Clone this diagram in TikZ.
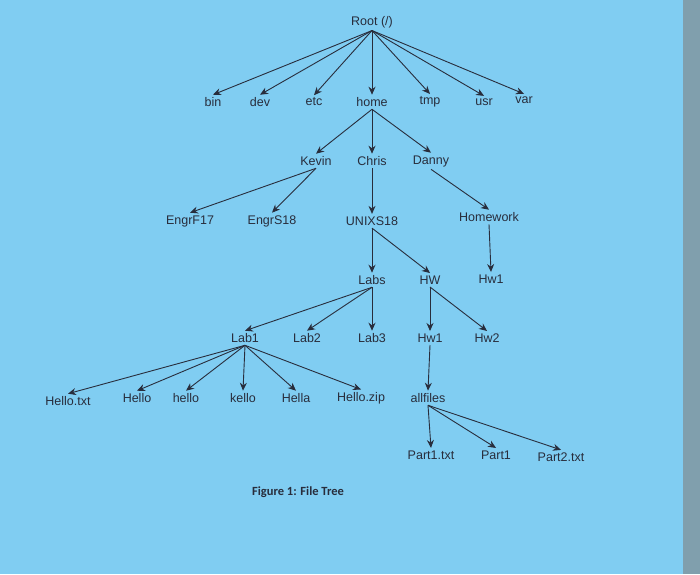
\documentclass[tikz,border=0pt]{standalone}
\usepackage{fontspec}
\setmainfont{Liberation Sans}
\newfontfamily\capfont{Carlito}
\usetikzlibrary{arrows.meta}
\definecolor{paper}{RGB}{128,205,242}
\definecolor{ink}{RGB}{40,45,60}
\begin{document}
\begin{tikzpicture}[x=1pt,y=-1pt,
  lbl/.style={text=ink,font=\fontsize{12.5}{12.5}\selectfont,inner sep=2.5pt},
  arr/.style={draw=ink,line width=0.9pt,-{Stealth[length=8pt,width=7pt]}}]
\fill[paper] (0,0) rectangle (700,574);
\fill[gray!60!paper] (683,0) rectangle (700,574);
\useasboundingbox (0,0) rectangle (700,574);
\node[lbl] (root) at (372,22) {Root (/)};
\node[lbl] (bin) at (213,102) {bin};
\node[lbl] (dev) at (260,102) {dev};
\node[lbl] (etc) at (314,102) {etc};
\node[lbl] (home) at (372,102) {home};
\node[lbl] (tmp) at (430,102) {tmp};
\node[lbl] (usr) at (484,102) {usr};
\node[lbl] (var) at (524,100) {var};
\node[lbl] (kevin) at (316,161) {Kevin};
\node[lbl] (chris) at (372,161) {Chris};
\node[lbl] (danny) at (431,161) {Danny};
\node[lbl] (f17) at (190,221) {EngrF17};
\node[lbl] (s18) at (272,221) {EngrS18};
\node[lbl] (unix) at (372,221) {UNIXS18};
\node[lbl] (homework) at (489,217) {Homework};
\node[lbl] (labs) at (372,280) {Labs};
\node[lbl] (hw) at (430,280) {HW};
\node[lbl] (hwa) at (491,279) {Hw1};
\node[lbl] (lab1) at (245,338) {Lab1};
\node[lbl] (lab2) at (307,338) {Lab2};
\node[lbl] (lab3) at (372,338) {Lab3};
\node[lbl] (hwb) at (430,338) {Hw1};
\node[lbl] (hw2) at (487,338) {Hw2};
\node[lbl] (f1) at (68,401) {Hello.txt};
\node[lbl] (f2) at (137,398) {Hello};
\node[lbl] (f3) at (186,398) {hello};
\node[lbl] (f4) at (243,398) {kello};
\node[lbl] (f5) at (296,398) {Hella};
\node[lbl] (f6) at (361,398) {Hello.zip};
\node[lbl] (all) at (428,398) {allfiles};
\node[lbl] (p1) at (431,455) {Part1.txt};
\node[lbl] (p2) at (496,455) {Part1};
\node[lbl] (p3) at (561,457) {Part2.txt};
\node[text=ink,font=\capfont\bfseries\fontsize{12.5}{12.5}\selectfont] (cap) at (298,492) {Figure 1: File Tree};
\foreach \t in {bin,dev,etc,home,tmp,usr,var} \draw[arr] (root.south) -- (\t.north);
\foreach \t in {kevin,chris,danny} \draw[arr] (home.south) -- (\t.north);
\foreach \t in {f17,s18} \draw[arr] (kevin.south) -- (\t.north);
\draw[arr] (chris.south) -- (unix.north);
\draw[arr] (danny.south) -- (homework.north);
\draw[arr] (homework.south) -- (hwa.north);
\foreach \t in {labs,hw} \draw[arr] (unix.south) -- (\t.north);
\foreach \t in {lab1,lab2,lab3} \draw[arr] (labs.south) -- (\t.north);
\foreach \t in {hwb,hw2} \draw[arr] (hw.south) -- (\t.north);
\foreach \t in {f1,f2,f3,f4,f5,f6} \draw[arr] (lab1.south) -- (\t.north);
\draw[arr] (hwb.south) -- (all.north);
\foreach \t in {p1,p2,p3} \draw[arr] (all.south) -- (\t.north);
\end{tikzpicture}
\end{document}
